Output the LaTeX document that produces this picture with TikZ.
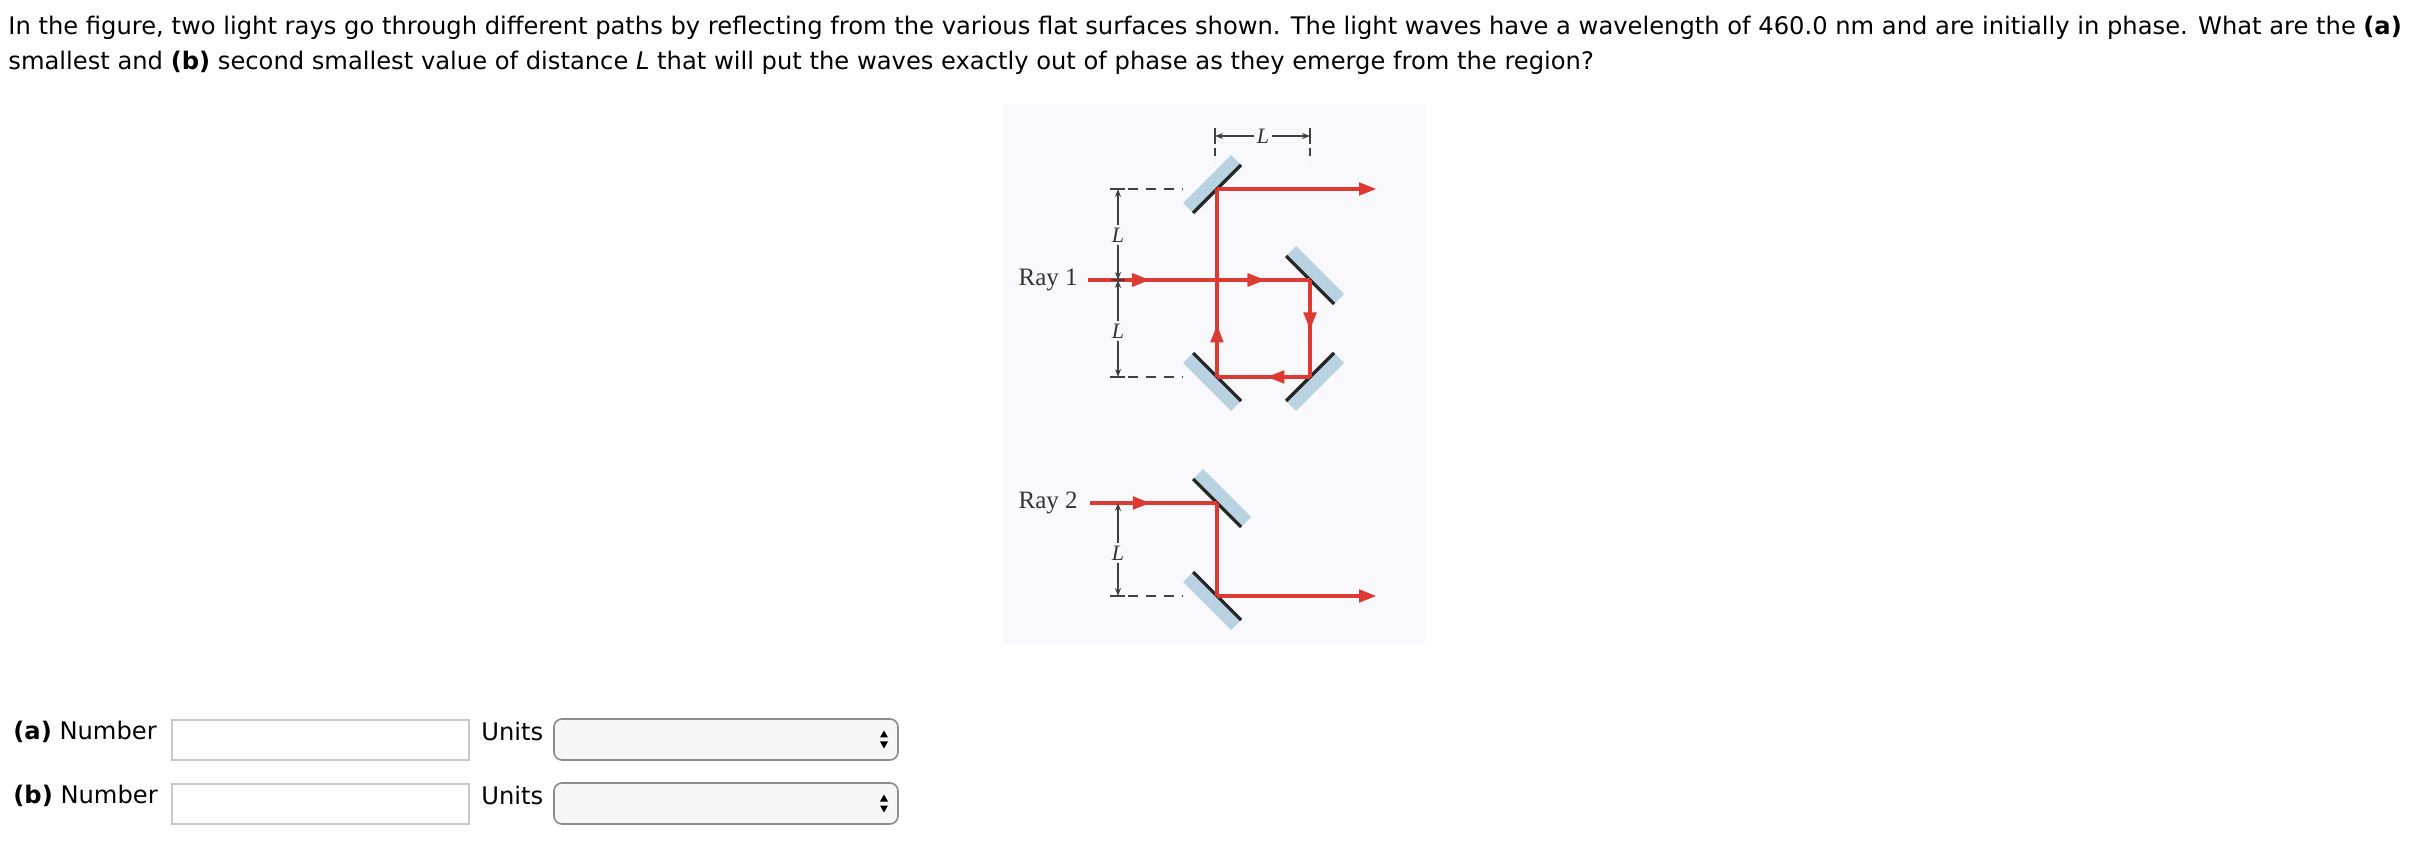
\documentclass[tikz,border=0pt]{standalone}
\usepackage{fontspec}
\setmainfont{DejaVu Sans}
\newfontfamily\figfont{Liberation Serif}
\usetikzlibrary{arrows.meta,decorations.markings,calc}
\definecolor{rayred}{HTML}{DC3A33}
\definecolor{mblue}{HTML}{B9D2E2}
\definecolor{figbg}{HTML}{F9F8FC}
\definecolor{boxgray}{HTML}{C8C8C8}
\definecolor{selbg}{HTML}{F6F6F6}
\tikzset{
 ray/.style={draw=rayred,line width=2.2pt},
 rayend/.style={ray,-{Triangle[length=9pt,width=6pt]}},
 midarrow/.style={postaction={decorate},decoration={markings,mark=at position #1 with {\arrow{Triangle[length=9pt,width=6pt]}}}},
 mirrorline/.style={draw=black!85,line width=1.6pt},
 dim/.style={draw=black!75,line width=0.6pt},
 dimarrow/.style={dim,-{Stealth[length=4pt,width=3pt]}},
 dashline/.style={draw=black!75,line width=0.8pt,dash pattern=on 5pt off 4pt},
 lab/.style={font=\figfont\fontsize{11}{13}\selectfont\itshape,inner sep=1pt,text=black!80},
 raylab/.style={font=\figfont\fontsize{12.5}{14}\selectfont,anchor=east,inner sep=0pt,text=black!80},
 qtext/.style={anchor=west,inner sep=0pt,font=\fontsize{12.1}{14}\selectfont},
 inbox/.style={draw=boxgray,line width=0.6pt,fill=white},
 selbox/.style={draw=black!45,line width=0.8pt,fill=selbg,rounded corners=4pt},
}
\newcommand{\mirrorAt}[4]{%
  \fill[mblue] ($#1+#2$) -- ($#1+#3$) -- ($#1+#3+#4$) -- ($#1+#2+#4$) -- cycle;
  \draw[mirrorline] ($#1+#2$) -- ($#1+#3$);}
\begin{document}
\begin{tikzpicture}[x=0.5pt,y=-0.5pt]
\useasboundingbox (0,0) rectangle (2436,854);
\fill[white] (0,0) rectangle (2436,854);
% question
\node[qtext] (q1) at (8,28) {In the figure, two light rays go through different paths by reflecting from the various flat surfaces shown. The light waves have a wavelength of 460.0 nm and are initially in phase. What are the \textbf{(a)}};
\node[qtext] (q2) at (8,63) {smallest and \textbf{(b)} second smallest value of distance \textit{L} that will put the waves exactly out of phase as they emerge from the region?};
% figure background
\fill[figbg] (1003,104) rectangle (1425,645);
% mirrors
\mirrorAt{(1217,189)}{(-24,24)}{(24,-24)}{(-10,-10)}
\mirrorAt{(1310,280)}{(-24,-24)}{(24,24)}{(10,-10)}
\mirrorAt{(1310,377)}{(-24,24)}{(24,-24)}{(10,10)}
\mirrorAt{(1217,377)}{(-24,-24)}{(24,24)}{(-10,10)}
\mirrorAt{(1217,503)}{(-24,-24)}{(24,24)}{(10,-10)}
\mirrorAt{(1217,596)}{(-24,-24)}{(24,24)}{(-10,10)}
% coordinates
\coordinate (r1s) at (1088,280);
\coordinate (m1) at (1217,189);
\coordinate (m2) at (1310,280);
\coordinate (m3) at (1310,377);
\coordinate (m4) at (1217,377);
\coordinate (r1e) at (1377,189);
\coordinate (r2s) at (1090,503);
\coordinate (m5) at (1217,503);
\coordinate (m6) at (1217,596);
\coordinate (r2e) at (1377,596);
% ray 1
\draw[ray,midarrow=0.28,midarrow=0.8] (r1s) -- (m2);
\draw[ray,midarrow=0.52] (m2) -- (m3);
\draw[ray,midarrow=0.47] (m3) -- (m4);
\draw[ray,midarrow=0.28] (m4) -- (m1);
\draw[rayend] (m1) -- (r1e);
% ray 2
\draw[ray,midarrow=0.48] (r2s) -- (m5);
\draw[ray] (m5) -- (m6);
\draw[rayend] (m6) -- (r2e);
\node[raylab] (ray1) at (1078,280) {Ray 1};
\node[raylab] (ray2) at (1078,503) {Ray 2};
% dashed extension lines
\coordinate (d1a) at (1110,189); \coordinate (d1b) at (1183,189);
\coordinate (d2a) at (1110,377); \coordinate (d2b) at (1183,377);
\coordinate (d3a) at (1110,596); \coordinate (d3b) at (1183,596);
\draw[dashline] (d1a) -- (d1b);
\draw[dashline] (d2a) -- (d2b);
\draw[dashline] (d3a) -- (d3b);
% vertical dims
\node[lab] (L1) at (1118,235) {L};
\node[lab] (L2) at (1118,331) {L};
\node[lab] (L3) at (1118,553) {L};
\coordinate (t1) at (1118,189); \coordinate (t2) at (1118,280);
\coordinate (t3) at (1118,377); \coordinate (t4) at (1118,503);
\coordinate (t5) at (1118,596);
\draw[dimarrow] (L1.north) -- (t1);
\draw[dimarrow] (L1.south) -- (t2);
\draw[dimarrow] (L2.north) -- (t2);
\draw[dimarrow] (L2.south) -- (t3);
\draw[dimarrow] (L3.north) -- (t4);
\draw[dimarrow] (L3.south) -- (t5);
\draw[dim] (1111,189) -- (1125,189);
\draw[dim] (1111,280) -- (1125,280);
\draw[dim] (1111,377) -- (1125,377);
\draw[dim] (1111,596) -- (1125,596);
% horizontal dim
\node[lab] (L4) at (1263,136) {L};
\coordinate (h1) at (1215,136); \coordinate (h2) at (1310,136);
\draw[dimarrow] (L4.west) -- (h1);
\draw[dimarrow] (L4.east) -- (h2);
\draw[dim] (1215,128) -- (1215,144);
\draw[dim] (1310,128) -- (1310,144);
\draw[dim,dash pattern=on 4pt off 3pt] (1215,148) -- (1215,162);
\draw[dim,dash pattern=on 4pt off 3pt] (1310,148) -- (1310,162);
% answer rows
\node[qtext] (a) at (13,732) {\textbf{(a)} Number};
\node[qtext] (b) at (13,796) {\textbf{(b)} Number};
\draw[inbox] (172,720) rectangle (469,760);
\draw[inbox] (172,784) rectangle (469,824);
\node[qtext] (ua) at (481,731) {Units};
\node[qtext] (ub) at (481,795) {Units};
\draw[selbox] (554,719) rectangle (898,760);
\draw[selbox] (554,783) rectangle (898,824);
\foreach \yy in {739.5,803.5} {
 \fill (884,\yy-9) -- (880,\yy-2) -- (888,\yy-2) -- cycle;
 \fill (884,\yy+9) -- (880,\yy+2) -- (888,\yy+2) -- cycle;
}
\end{tikzpicture}
\end{document}
